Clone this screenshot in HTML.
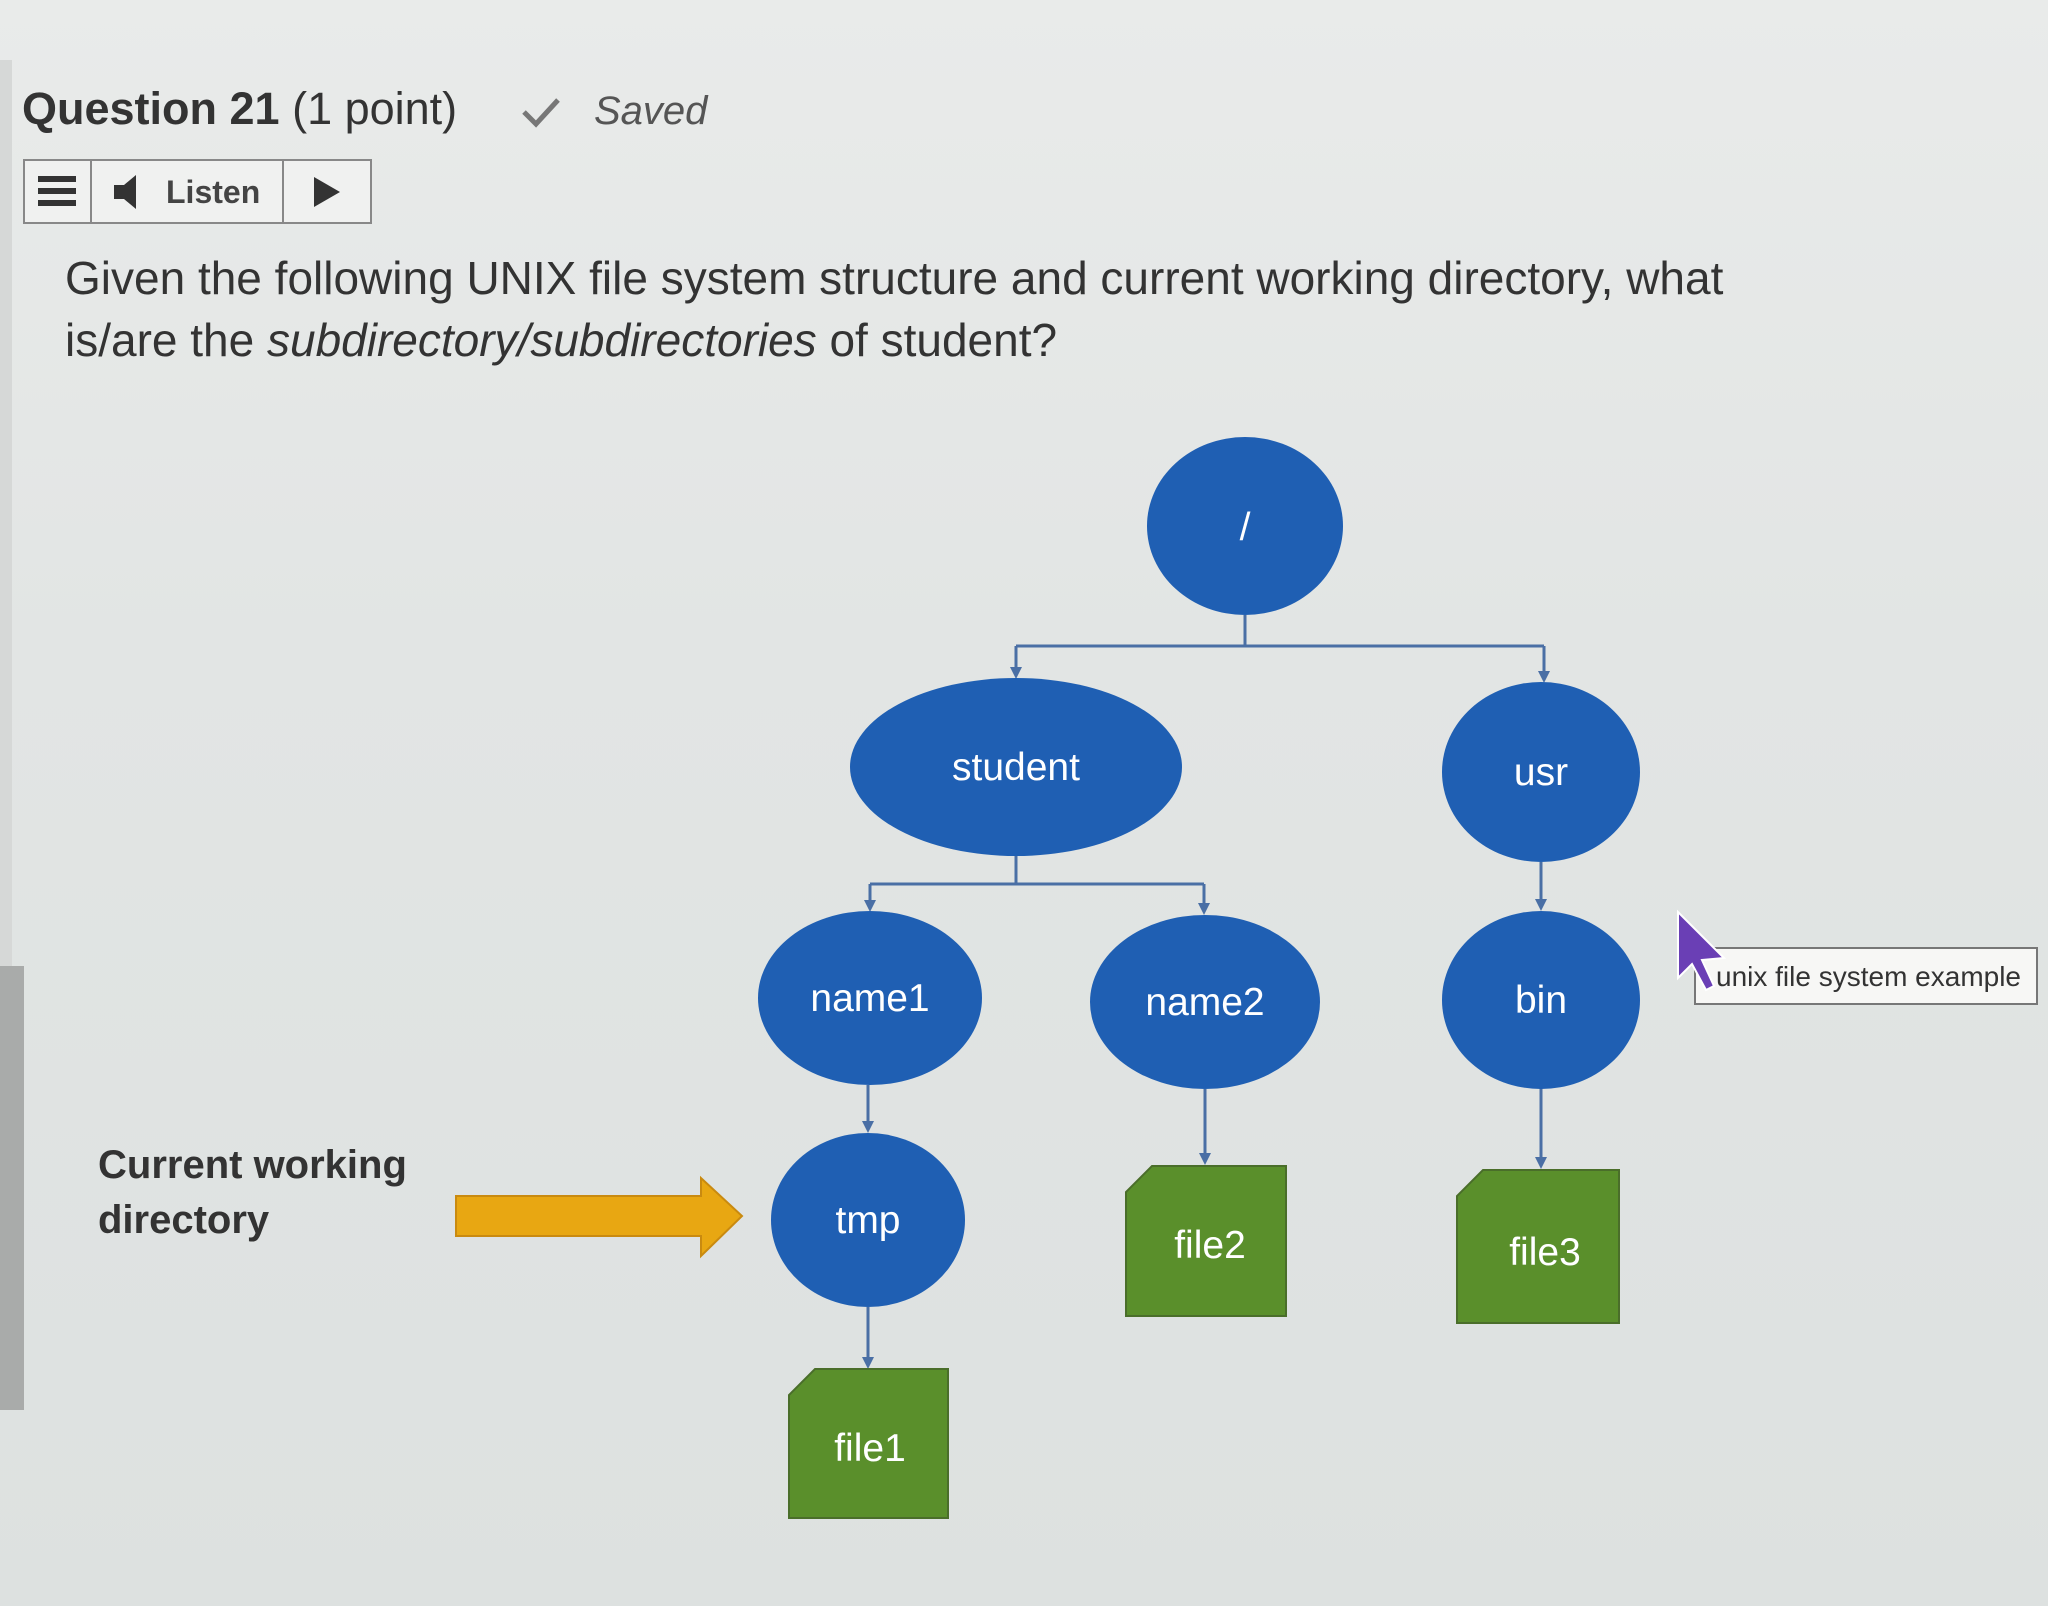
<!DOCTYPE html>
<html><head><meta charset="utf-8"><style>
html,body{margin:0;padding:0;}
body{width:2048px;height:1606px;overflow:hidden;background:linear-gradient(180deg,#e9ebea 0%,#e2e5e4 40%,#dde1e0 100%);font-family:"Liberation Sans",sans-serif;}
</style></head><body>
<svg width="2048" height="1606" xmlns="http://www.w3.org/2000/svg" style="position:absolute;left:0;top:0">
<defs><marker id="a" markerWidth="4" markerHeight="4" refX="3" refY="2" orient="auto"><path d="M0,0 L4,2 L0,4 z" fill="#4a6fa5"/></marker></defs>
<rect x="0" y="966" width="24" height="444" fill="#a9abaa"/>
<rect x="0" y="60" width="12" height="906" fill="#d6d8d7"/>
<text x="22" y="124" font-size="45" font-weight="bold" fill="#333">Question 21 <tspan font-weight="normal">(1 point)</tspan></text>
<path d="M524,112 L536,124 L558,100" stroke="#777" stroke-width="5" fill="none"/>
<text x="594" y="124" font-size="40" font-style="italic" fill="#555">Saved</text>
<rect x="24" y="160" width="347" height="63" fill="#f0f1f0" stroke="#888" stroke-width="2"/>
<line x1="91" y1="160" x2="91" y2="223" stroke="#888" stroke-width="2"/>
<line x1="283" y1="160" x2="283" y2="223" stroke="#888" stroke-width="2"/>
<rect x="38" y="176" width="38" height="6" fill="#333"/><rect x="38" y="188" width="38" height="6" fill="#333"/><rect x="38" y="200" width="38" height="6" fill="#333"/>
<path d="M114,185 L124,185 L136,175 L136,209 L124,199 L114,199 z" fill="#333"/>
<text x="166" y="203" font-size="32" font-weight="bold" fill="#444">Listen</text>
<path d="M314,177 L340,192 L314,207 z" fill="#333"/>
<text x="65" y="294" font-size="46" fill="#333">Given the following UNIX file system structure and current working directory, what</text>
<text x="65" y="356" font-size="46" fill="#333">is/are the <tspan font-style="italic">subdirectory/subdirectories</tspan> of student?</text>
<g stroke="#4a6fa5" stroke-width="3" fill="none">
<path d="M1245,615 L1245,646"/>
<path d="M1016,646 L1544,646"/>
<path d="M1016,646 L1016,676" marker-end="url(#a)"/>
<path d="M1544,646 L1544,680" marker-end="url(#a)"/>
<path d="M1016,856 L1016,884"/>
<path d="M870,884 L1204,884"/>
<path d="M870,884 L870,909" marker-end="url(#a)"/>
<path d="M1204,884 L1204,912" marker-end="url(#a)"/>
<path d="M1541,862 L1541,908" marker-end="url(#a)"/>
<path d="M868,1085 L868,1130" marker-end="url(#a)"/>
<path d="M868,1307 L868,1366" marker-end="url(#a)"/>
<path d="M1205,1089 L1205,1162" marker-end="url(#a)"/>
<path d="M1541,1088 L1541,1166" marker-end="url(#a)"/>
</g>
<g fill="#1f5fb3">
<ellipse cx="1245" cy="526" rx="98" ry="89"/>
<ellipse cx="1016" cy="767" rx="166" ry="89"/>
<ellipse cx="1541" cy="772" rx="99" ry="90"/>
<ellipse cx="870" cy="998" rx="112" ry="87"/>
<ellipse cx="1205" cy="1002" rx="115" ry="87"/>
<ellipse cx="1541" cy="1000" rx="99" ry="89"/>
<ellipse cx="868" cy="1220" rx="97" ry="87"/>
</g>
<g fill="#5a8f2b" stroke="#4a6e2a" stroke-width="2">
<path d="M815,1369 L948,1369 L948,1518 L789,1518 L789,1395 z"/>
<path d="M1152,1166 L1286,1166 L1286,1316 L1126,1316 L1126,1192 z"/>
<path d="M1483,1170 L1619,1170 L1619,1323 L1457,1323 L1457,1196 z"/>
</g>
<g fill="#fff" font-size="39" text-anchor="middle">
<text x="1245" y="540">/</text>
<text x="1016" y="780">student</text>
<text x="1541" y="785">usr</text>
<text x="870" y="1011">name1</text>
<text x="1205" y="1015">name2</text>
<text x="1541" y="1013">bin</text>
<text x="868" y="1233">tmp</text>
<text x="870" y="1461">file1</text>
<text x="1210" y="1258">file2</text>
<text x="1545" y="1265">file3</text>
</g>
<text x="98" y="1178" font-size="40" font-weight="bold" fill="#333">Current working</text>
<text x="98" y="1233" font-size="40" font-weight="bold" fill="#333">directory</text>
<path d="M456,1196 L701,1196 L701,1178 L742,1216 L701,1256 L701,1236 L456,1236 z" fill="#e8a712" stroke="#c98a10" stroke-width="2"/>
<rect x="1695" y="948" width="342" height="56" fill="#f7f7f5" stroke="#777" stroke-width="2"/>
<text x="1716" y="986" font-size="28" fill="#333">unix file system example</text>
<path d="M1678,912 L1678,978 L1692,964 L1706,990 L1714,986 L1702,960 L1724,958 z" fill="#6a3fb5" stroke="#fff" stroke-width="2"/>
</svg>
</body></html>
